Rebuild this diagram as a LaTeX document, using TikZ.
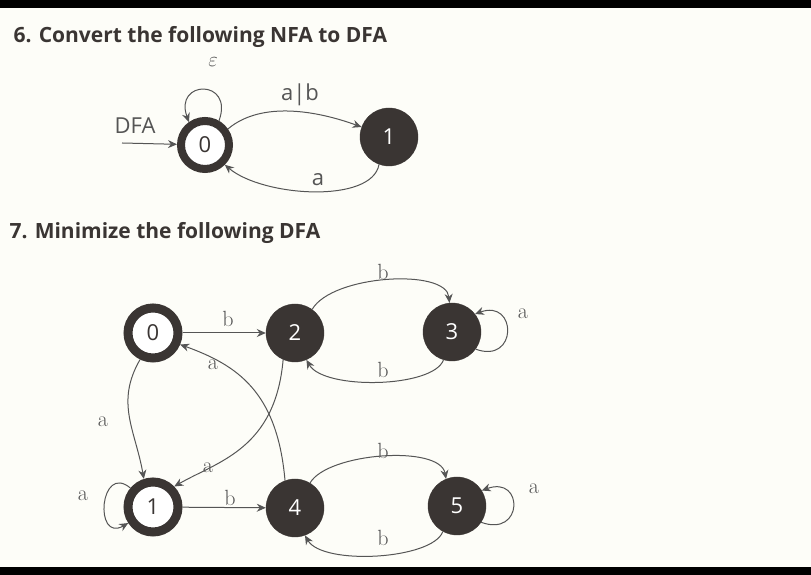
\documentclass[tikz,border=0pt]{standalone}
\usepackage{fontspec}
\setsansfont{Open Sans}
\usetikzlibrary{arrows.meta}
\definecolor{bg}{HTML}{FDFDF8}
\definecolor{st}{HTML}{3A3533}
\definecolor{ln}{HTML}{555555}
\begin{document}
\begin{tikzpicture}[x=1pt,y=1pt,
  acc/.style={circle,draw=st,line width=9pt,fill=white,minimum size=50pt,inner sep=0pt,font=\sffamily\fontsize{22}{22}\selectfont,text=st},
  acct/.style={acc,line width=8pt,minimum size=48pt},
  dark/.style={circle,draw=st,fill=st,minimum size=58pt,inner sep=0pt,font=\sffamily\fontsize{22}{22}\selectfont,text=white},
  edge/.style={draw=ln,line width=1pt,-{Stealth[length=9pt,width=8pt]}},
  lab/.style={font=\fontsize{22}{22}\selectfont,text=ln},
  slab/.style={font=\sffamily\fontsize{22}{22}\selectfont,text=ln}]
\fill[bg] (0,0) rectangle (811,575);
\fill[black] (0,575) rectangle (811,567);
\fill[black] (0,8) rectangle (811,0);
\node[anchor=west,font=\sffamily\bfseries\fontsize{21}{21}\selectfont,text=st] (t6) at (10,{575-37}) {6. Convert the following NFA to DFA};
\node[anchor=west,font=\sffamily\bfseries\fontsize{21}{21}\selectfont,text=st] (t7) at (6,{575-233}) {7. Minimize the following DFA};
% top
\node[acct] (a0) at (205,{575-145}) {0};
\node[dark] (a1) at (389,{575-137}) {1};
\coordinate (ini) at (122,{575-143});
\draw[edge] (ini) -- (a0);
\node[slab] (dfa) at (135,{575-126}) {DFA};
\draw[edge] (a0.60) .. controls +(70:45) and +(110:45) .. (a0.125);
\node[lab] (eps) at (213,{575-62}) {$\varepsilon$};
\draw[edge] (a0.35) .. controls +(40:45) and +(160:45) .. (a1.160);
\node[slab] (ab) at (300,{575-95}) {a|b};
\draw[edge] (a1.-110) .. controls +(-100:40) and +(-40:50) .. (a0.-45);
\node[slab] (la) at (318,{575-180}) {a};
% bottom
\node[acc] (b0) at (153,{575-333}) {0};
\node[dark] (b2) at (295,{575-333}) {2};
\node[dark] (b3) at (452,{575-332}) {3};
\node[acc] (b1) at (153,{575-507}) {1};
\node[dark] (b4) at (295,{575-508}) {4};
\node[dark] (b5) at (457,{575-506}) {5};
\draw[edge] (b0) -- (b2);
\node[lab] at (228,{575-319}) {b};
\draw[edge] (b2.54) .. controls +(60:40) and +(95:35) .. (b3.95);
\node[lab] at (383,{575-272}) {b};
\draw[edge] (b3.253) .. controls +(-110:30) and +(-60:35) .. (b2.-67);
\node[lab] at (383,{575-370}) {b};
\draw[edge] (b3.-36) .. controls +(-20:45) and +(20:45) .. (b3.38);
\node[lab] at (523,{575-314}) {a};
\draw[edge] (b4.110) .. controls +(95:90) and +(-20:60) .. (b0.-23);
\node[lab] at (213,{575-365}) {a};
\draw[edge] (b2.246) .. controls +(-95:90) and +(30:50) .. (b1.44);
\node[lab] at (208,{575-468}) {a};
\draw[edge] (b0.244) .. controls +(-120:50) and +(100:50) .. (b1.108);
\node[lab] at (103,{575-422}) {a};
\draw[edge] (b1.140) .. controls +(140:40) and +(210:40) .. (b1.213);
\node[lab] at (83,{575-496}) {a};
\draw[edge] (b1) -- (b4);
\node[lab] at (230,{575-498}) {b};
\draw[edge] (b4.59) .. controls +(60:35) and +(100:35) .. (b5.112);
\node[lab] at (383,{575-451}) {b};
\draw[edge] (b5.241) .. controls +(-110:30) and +(-60:35) .. (b4.290);
\node[lab] at (383,{575-538}) {b};
\draw[edge] (b5.-34) .. controls +(-20:45) and +(20:45) .. (b5.32);
\node[lab] at (534,{575-489}) {a};
\end{tikzpicture}
\end{document}
